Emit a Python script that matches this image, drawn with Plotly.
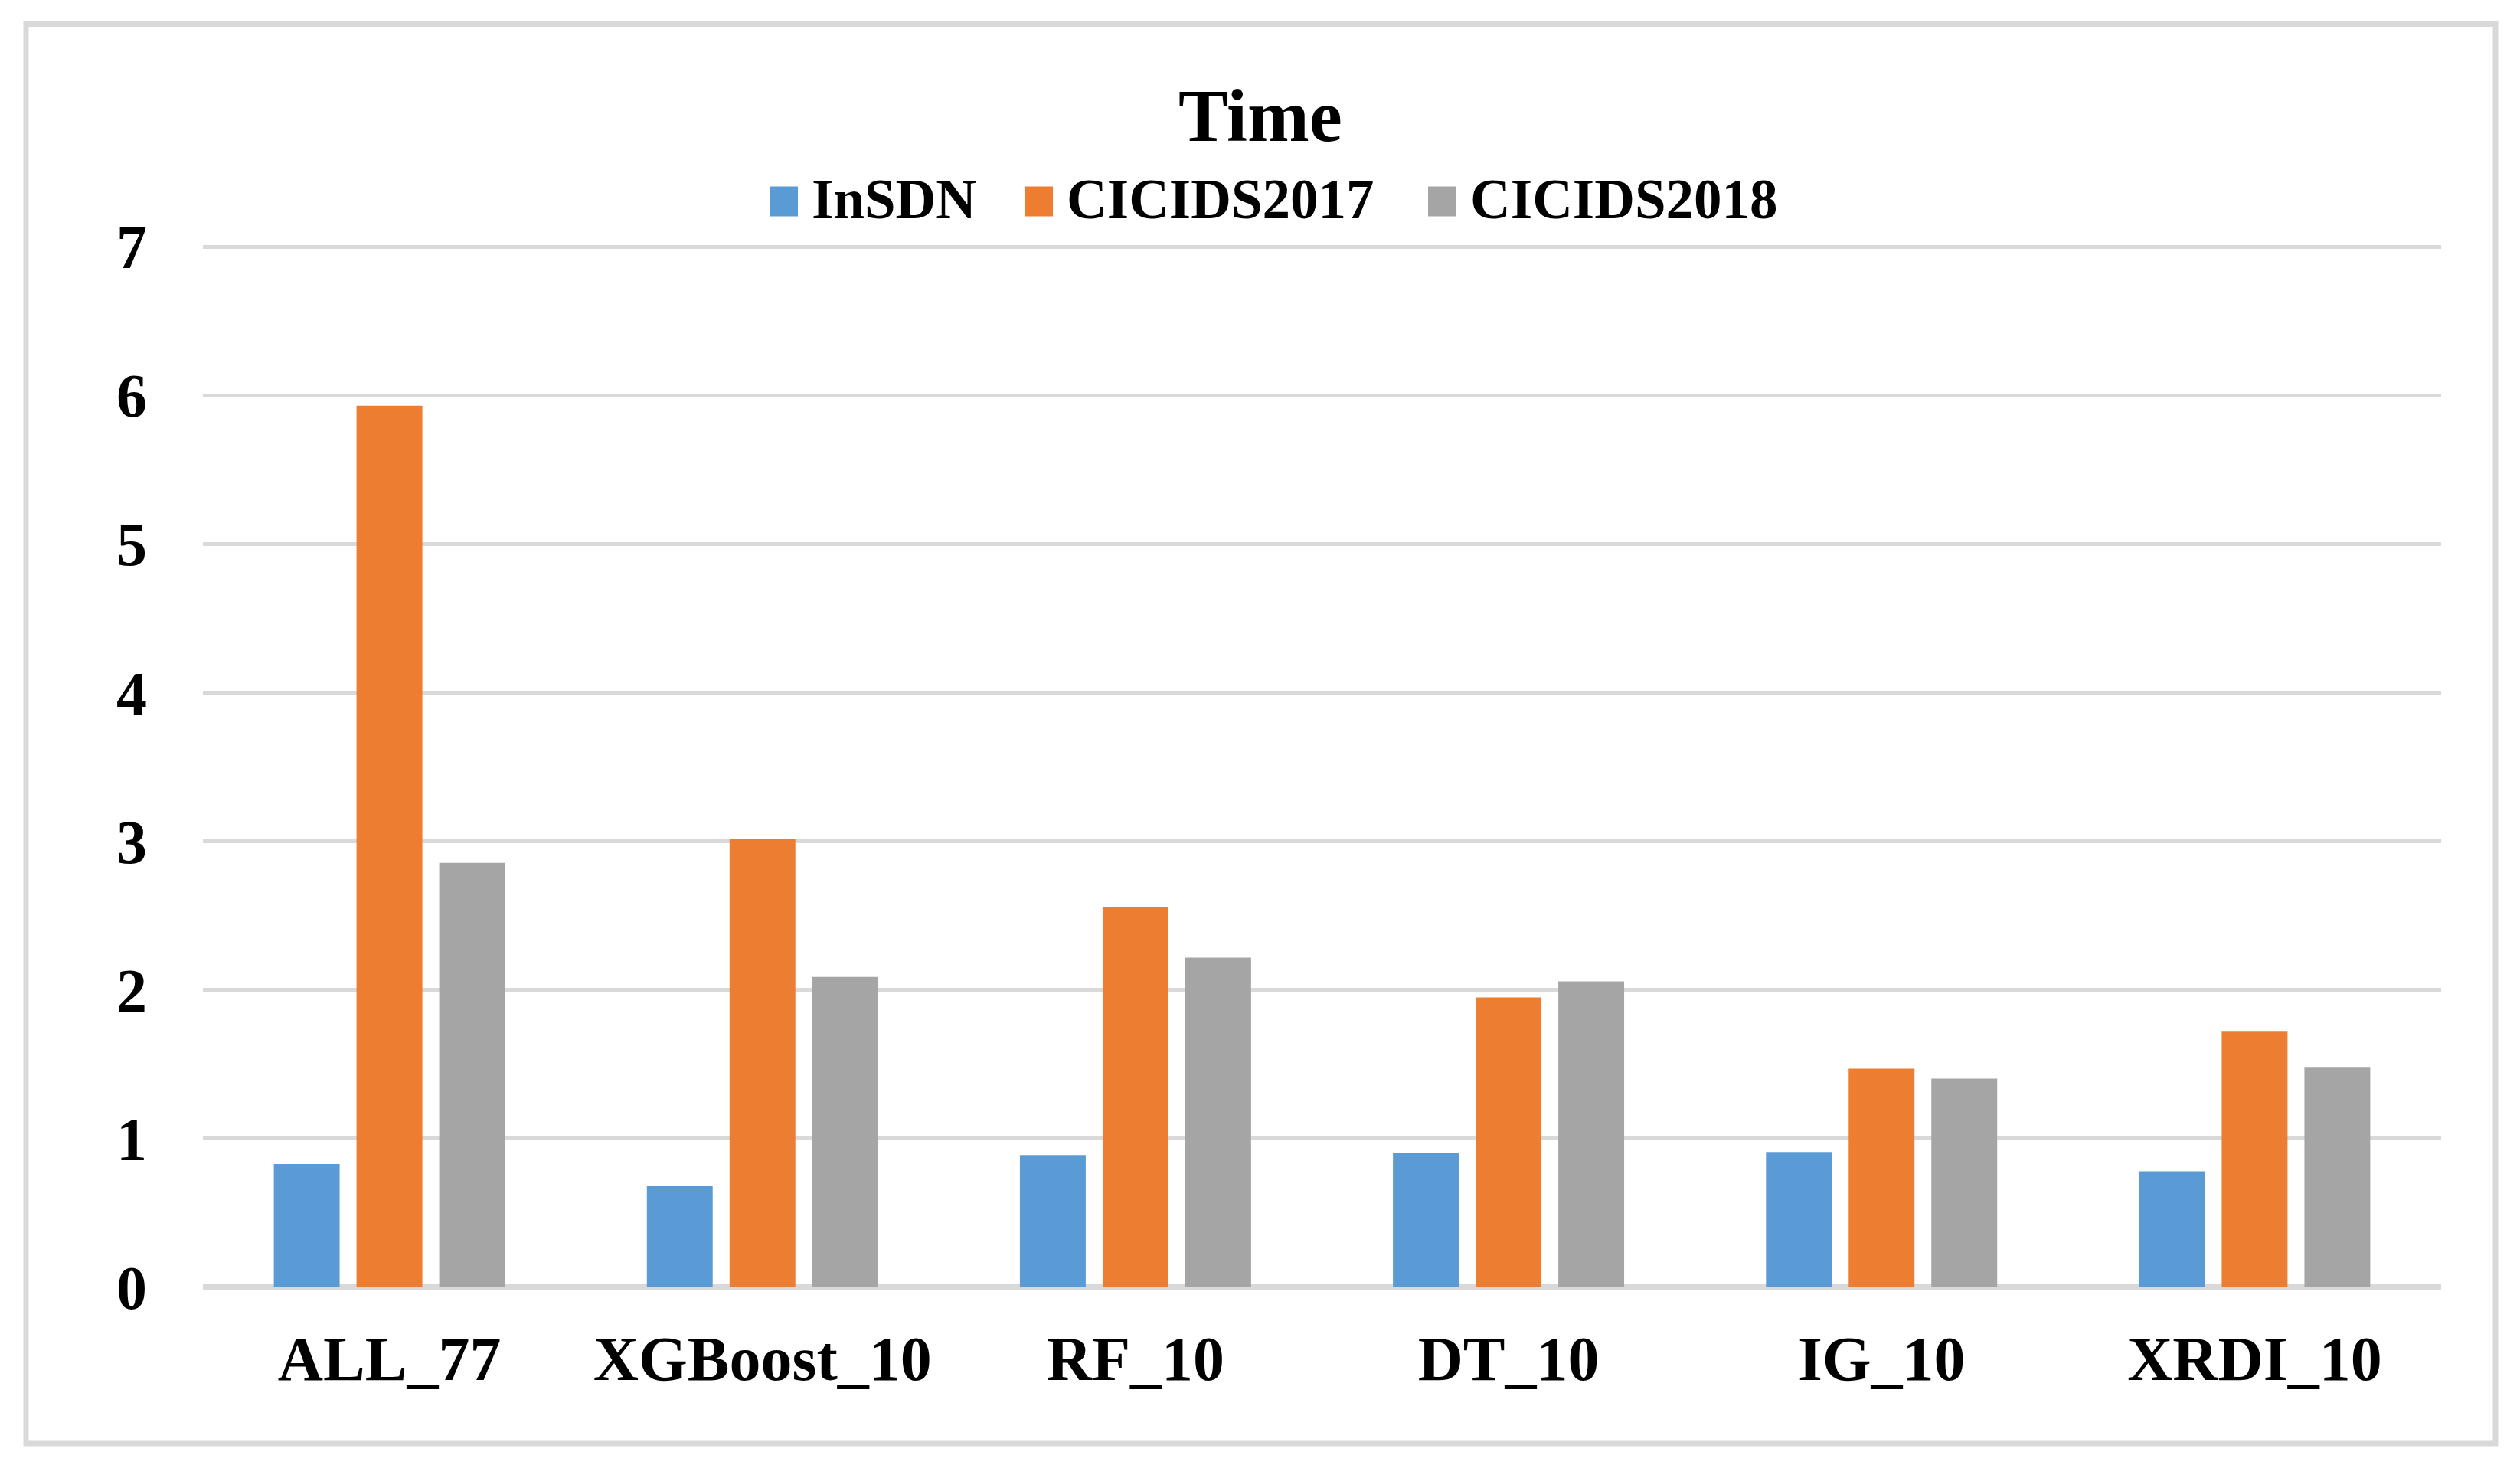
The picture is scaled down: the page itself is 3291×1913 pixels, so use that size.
import plotly.graph_objects as go

# ---- data ----
categories = ["ALL_77", "XGBoost_10", "RF_10", "DT_10", "IG_10", "XRDI_10"]
series_names = ["InSDN", "CICIDS2017", "CICIDS2018"]
insdn = [0.83, 0.68, 0.89, 0.905, 0.91, 0.78]
cicids2017 = [5.93, 3.015, 2.557, 1.95, 1.471, 1.724]
cicids2018 = [2.855, 2.088, 2.218, 2.058, 1.404, 1.482]
y_ticks = [0, 1, 2, 3, 4, 5, 6, 7]
title_text = "Time"

# ---- styles ----
colors = ["#5B9BD5", "#ED7D31", "#A5A5A5"]
FONT = "Liberation Serif, Times New Roman, serif"
GRID = "#D9D9D9"
OFF = 8  # default page body margin
W, H = 3291 - 2 * OFF, 1913 - 2 * OFF
# target plot area in page pixels
PL, PR, PT, PB = 265, 3188, 320.5, 1681
ML, MT = PL - OFF, PT - OFF
MR = W - (PR - OFF)
MB = H - (PB - OFF)
PW, PH = W - ML - MR, H - MT - MB


def px_x(p):
    return (p - OFF - ML) / PW


def px_y(p):
    return 1 - (p - OFF - MT) / PH


fig = go.Figure()
for name, vals, col in zip(series_names, [insdn, cicids2017, cicids2018], colors):
    fig.add_trace(go.Bar(x=categories, y=vals, name=name, marker=dict(color=col, line=dict(width=0)),
                         showlegend=False))

# custom legend (large square swatches like the original)
legend_marker_x = [1005, 1338, 1865]
shapes = []
annotations = []
for name, col, mx in zip(series_names, colors, legend_marker_x):
    shapes.append(dict(type="rect", xref="paper", yref="paper",
                       x0=px_x(mx), x1=px_x(mx + 37), y0=px_y(282), y1=px_y(243),
                       fillcolor=col, line=dict(width=0)))
    annotations.append(dict(xref="paper", yref="paper", x=px_x(mx + 53), y=px_y(260),
                            xanchor="left", yanchor="middle", showarrow=False,
                            text=name, font=dict(family=FONT, size=73, color="black", weight="bold")))

# outer chart border
shapes.append(dict(type="rect", xref="paper", yref="paper",
                   x0=px_x(34), x1=px_x(3259), y0=px_y(1885), y1=px_y(31),
                   line=dict(color=GRID, width=7), fillcolor="rgba(0,0,0,0)", layer="below"))

fig.update_layout(
    width=W, height=H,
    margin=dict(l=ML, r=MR, t=MT, b=MB, pad=0),
    paper_bgcolor="white", plot_bgcolor="white",
    barmode="group", bargap=0.335, bargroupgap=0.204,
    title=dict(text=title_text, xref="container", x=(1646 - OFF) / W, xanchor="center",
               yref="container", y=1 - (150 - OFF) / H, yanchor="middle",
               font=dict(family=FONT, size=97, color="black", weight="bold")),
    shapes=shapes, annotations=annotations,
    xaxis=dict(type="category", showgrid=False, showline=False, zeroline=False, ticks="",
               tickfont=dict(family=FONT, size=82, color="black", weight="bold"),
               ticklabelstandoff=38),
    yaxis=dict(range=[0, 7.006], tickvals=y_ticks, showgrid=True, gridcolor=GRID, gridwidth=5,
               zeroline=True, zerolinecolor=GRID, zerolinewidth=8, showline=False, ticks="",
               tickfont=dict(family=FONT, size=80, color="black", weight="bold"),
               ticklabelstandoff=72),
)

fig.write_html("out.html")
